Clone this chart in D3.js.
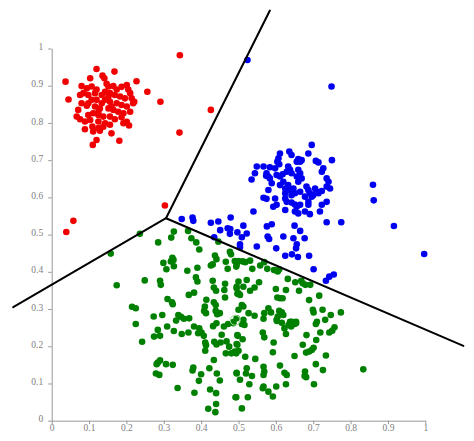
<!DOCTYPE html>
<html>
<head>
<meta charset="utf-8">
<script src="https://cdn.jsdelivr.net/npm/d3@7"></script>
<style>
  html, body { margin: 0; padding: 0; background: #fff; }
  .axis text { font-family: "Liberation Serif", serif; font-size: 9.5px; fill: #808080; }
  .axis path, .axis line { stroke: #999; stroke-width: 1; }
</style>
</head>
<body>
<svg id="chart" width="474" height="441"></svg>
<script>
// --- Data ---
const tickValues = [0, 0.1, 0.2, 0.3, 0.4, 0.5, 0.6, 0.7, 0.8, 0.9, 1];
const tickLabels = ["0", "0.1", "0.2", "0.3", "0.4", "0.5", "0.6", "0.7", "0.8", "0.9", "1"];

const redPoints = [
  [0.037,0.911],[0.045,0.863],[0.120,0.945],[0.168,0.938],[0.136,0.927],[0.141,0.920],
  [0.103,0.920],[0.227,0.912],[0.256,0.884],[0.291,0.857],
  [0.080,0.899],[0.094,0.893],[0.085,0.880],[0.107,0.898],[0.120,0.890],[0.116,0.880],
  [0.098,0.875],[0.076,0.875],
  [0.147,0.905],[0.152,0.898],[0.165,0.899],[0.174,0.890],[0.187,0.897],[0.201,0.902],
  [0.205,0.890],[0.210,0.880],
  [0.143,0.884],[0.134,0.875],[0.156,0.880],[0.169,0.875],[0.183,0.871],[0.196,0.866],
  [0.214,0.866],[0.218,0.853],
  [0.107,0.862],[0.120,0.862],[0.143,0.862],[0.156,0.857],[0.174,0.853],[0.187,0.848],
  [0.201,0.844],
  [0.080,0.853],[0.094,0.846],[0.071,0.835],[0.116,0.844],[0.129,0.839],[0.152,0.839],
  [0.165,0.835],[0.178,0.830],[0.192,0.826],[0.210,0.830],[0.221,0.857],
  [0.067,0.817],[0.076,0.810],[0.098,0.821],[0.111,0.826],[0.125,0.821],[0.138,0.817],
  [0.156,0.817],[0.169,0.810],[0.187,0.815],[0.201,0.803],[0.207,0.793],
  [0.089,0.804],[0.103,0.808],[0.125,0.804],[0.143,0.799],[0.156,0.795],[0.192,0.799],
  [0.089,0.783],[0.109,0.790],[0.111,0.777],[0.125,0.786],[0.138,0.790],[0.160,0.772],
  [0.120,0.754],[0.129,0.779],[0.110,0.741],[0.181,0.752],
  [0.098,0.853],[0.134,0.853],[0.152,0.871],[0.160,0.844],[0.125,0.830],
  [0.343,0.982],[0.426,0.835],[0.342,0.774],[0.303,0.578],[0.058,0.537],[0.039,0.507]
];

const bluePoints = [
  [0.524,0.969],[0.749,0.898],[0.860,0.634],[0.862,0.592],[0.916,0.523],[0.997,0.448],
  [0.696,0.741],[0.750,0.700],[0.687,0.718],[0.611,0.718],[0.636,0.723],[0.642,0.714],
  [0.607,0.705],[0.604,0.696],[0.609,0.689],
  [0.660,0.703],[0.665,0.696],[0.656,0.696],[0.669,0.700],[0.707,0.698],[0.714,0.694],
  [0.549,0.683],[0.567,0.683],[0.584,0.681],[0.544,0.665],[0.535,0.648],
  [0.575,0.665],[0.580,0.656],[0.584,0.651],[0.574,0.658],
  [0.598,0.678],[0.602,0.660],[0.611,0.656],[0.618,0.662],
  [0.633,0.683],[0.638,0.674],[0.629,0.669],[0.642,0.665],
  [0.660,0.674],[0.665,0.665],[0.656,0.656],[0.669,0.651],[0.660,0.642],
  [0.727,0.678],[0.723,0.669],[0.736,0.651],[0.741,0.642],[0.736,0.629],[0.745,0.624],
  [0.589,0.638],[0.611,0.633],[0.620,0.642],[0.625,0.624],[0.633,0.633],[0.638,0.620],
  [0.647,0.624],
  [0.625,0.611],[0.642,0.606],[0.651,0.611],[0.665,0.615],
  [0.682,0.629],[0.687,0.620],[0.678,0.602],
  [0.705,0.624],[0.709,0.615],[0.700,0.606],[0.714,0.611],[0.723,0.617],[0.696,0.602],
  [0.691,0.611],
  [0.580,0.620],[0.567,0.599],[0.575,0.596],[0.598,0.597],
  [0.625,0.597],[0.629,0.588],[0.642,0.586],[0.651,0.581],[0.656,0.575],[0.665,0.580],
  [0.687,0.588],[0.687,0.580],[0.723,0.580],[0.736,0.588],
  [0.593,0.575],[0.602,0.580],[0.625,0.566],[0.651,0.562],[0.660,0.557],[0.678,0.562],
  [0.691,0.555],[0.718,0.562],[0.540,0.562],
  [0.348,0.542],[0.377,0.546],[0.379,0.537],[0.426,0.532],[0.446,0.535],[0.479,0.546],
  [0.451,0.512],[0.471,0.517],[0.478,0.515],[0.477,0.502],[0.497,0.506],[0.513,0.524],
  [0.522,0.503],[0.509,0.493],[0.435,0.493],[0.504,0.474],[0.504,0.466],[0.549,0.468],
  [0.576,0.522],[0.578,0.495],[0.582,0.488],[0.601,0.463],[0.620,0.495],[0.647,0.490],
  [0.665,0.510],[0.677,0.490],[0.656,0.474],[0.654,0.463],[0.625,0.443],[0.643,0.447],
  [0.659,0.440],[0.689,0.443],[0.701,0.407],[0.734,0.376],[0.743,0.387],[0.755,0.393],
  [0.650,0.524],[0.589,0.528],[0.736,0.533],[0.775,0.533]
];

const greenPoints = [
  [0.236,0.502],[0.158,0.449],[0.327,0.508],[0.365,0.510],[0.320,0.492],[0.285,0.479],
  [0.374,0.490],[0.387,0.479],[0.395,0.460],[0.446,0.481],[0.437,0.444],[0.441,0.434],
  [0.431,0.420],[0.426,0.417],[0.466,0.427],[0.477,0.454],[0.480,0.447],[0.490,0.429],
  [0.471,0.408],[0.323,0.438],[0.319,0.428],[0.326,0.432],[0.299,0.424],[0.327,0.415],
  [0.307,0.407],[0.363,0.403],[0.390,0.411],[0.290,0.376],[0.292,0.365],[0.249,0.377],
  [0.174,0.364],[0.386,0.385],[0.390,0.374],[0.431,0.376],[0.434,0.358],[0.440,0.349],
  [0.464,0.368],[0.462,0.351],[0.464,0.331],[0.495,0.360],[0.497,0.341],[0.367,0.338],
  [0.381,0.344],[0.414,0.325],[0.434,0.318],[0.439,0.311],[0.310,0.327],[0.322,0.318],
  [0.324,0.313],[0.410,0.307],[0.408,0.295],[0.413,0.289],[0.439,0.295],[0.443,0.286],
  [0.450,0.289],[0.215,0.306],[0.225,0.302],[0.339,0.284],[0.346,0.279],[0.333,0.269],
  [0.354,0.274],[0.368,0.275],[0.296,0.284],[0.273,0.280],[0.441,0.262],[0.472,0.260],
  [0.225,0.260],[0.486,0.265],
  [0.500,0.429],[0.511,0.428],[0.531,0.430],[0.518,0.426],[0.494,0.414],[0.495,0.420],
  [0.537,0.408],[0.558,0.417],[0.569,0.426],[0.577,0.408],[0.595,0.405],[0.603,0.403],
  [0.609,0.407],[0.605,0.401],[0.632,0.381],[0.652,0.372],[0.668,0.376],[0.672,0.369],
  [0.679,0.365],[0.692,0.365],[0.500,0.374],[0.522,0.378],[0.513,0.360],[0.495,0.356],
  [0.555,0.372],[0.543,0.358],[0.531,0.349],[0.500,0.342],[0.504,0.338],[0.600,0.354],
  [0.627,0.351],[0.662,0.349],[0.604,0.331],[0.611,0.329],[0.618,0.329],[0.716,0.336],
  [0.689,0.324],[0.509,0.311],[0.513,0.307],[0.500,0.298],[0.527,0.289],[0.543,0.282],
  [0.580,0.302],[0.587,0.291],[0.609,0.295],[0.616,0.291],[0.620,0.284],[0.605,0.280],
  [0.602,0.271],[0.569,0.289],[0.567,0.274],[0.699,0.298],[0.701,0.291],[0.725,0.298],
  [0.747,0.284],[0.774,0.291],[0.710,0.266],[0.732,0.271],[0.638,0.266],[0.647,0.260],
  [0.654,0.266],[0.513,0.271],[0.495,0.275],
  [0.242,0.212],[0.284,0.244],[0.290,0.228],[0.274,0.226],[0.309,0.253],[0.327,0.241],
  [0.348,0.233],[0.366,0.237],[0.381,0.253],[0.395,0.248],[0.401,0.237],[0.392,0.235],
  [0.407,0.228],[0.411,0.210],[0.413,0.203],[0.411,0.188],[0.432,0.254],[0.455,0.231],
  [0.461,0.253],[0.435,0.212],[0.441,0.205],[0.452,0.210],[0.468,0.213],[0.475,0.199],
  [0.466,0.181],[0.481,0.181],[0.490,0.186],[0.497,0.204],[0.497,0.230],[0.486,0.262],
  [0.434,0.163],[0.284,0.156],[0.290,0.162],[0.281,0.152],[0.306,0.152],[0.324,0.150],
  [0.279,0.127],[0.288,0.123],[0.379,0.143],[0.377,0.135],[0.400,0.125],[0.422,0.141],
  [0.442,0.127],[0.450,0.108],[0.394,0.107],[0.337,0.088],[0.382,0.075],[0.424,0.084],
  [0.440,0.074],[0.492,0.063],[0.440,0.045],[0.419,0.032],[0.438,0.023],[0.495,0.127],
  [0.509,0.260],[0.516,0.257],[0.498,0.228],[0.511,0.219],[0.495,0.206],[0.500,0.188],
  [0.494,0.181],[0.518,0.172],[0.545,0.166],[0.565,0.237],[0.569,0.224],[0.594,0.210],
  [0.592,0.184],[0.623,0.248],[0.627,0.233],[0.634,0.257],[0.643,0.266],[0.650,0.260],
  [0.641,0.253],[0.654,0.262],[0.603,0.268],[0.616,0.263],[0.707,0.260],[0.682,0.230],
  [0.708,0.217],[0.719,0.237],[0.743,0.237],[0.751,0.242],[0.757,0.251],[0.672,0.204],
  [0.681,0.183],[0.689,0.186],[0.696,0.190],[0.701,0.196],[0.734,0.175],[0.650,0.174],
  [0.611,0.148],[0.567,0.145],[0.569,0.132],[0.567,0.123],[0.623,0.129],[0.629,0.123],
  [0.522,0.141],[0.495,0.129],[0.520,0.127],[0.536,0.120],[0.504,0.110],[0.529,0.098],
  [0.567,0.092],[0.565,0.087],[0.601,0.092],[0.580,0.078],[0.592,0.065],[0.627,0.098],
  [0.678,0.132],[0.677,0.120],[0.681,0.117],[0.707,0.152],[0.726,0.136],[0.702,0.098],
  [0.494,0.063],[0.525,0.063],[0.509,0.033],[0.834,0.138]
];

// open marker inside the green group
const hollowMarker = [0.491, 0.270];

// partition lines: shared apex and the three far ends
const boundaryApex = [0.306, 0.544];
const boundaryEnds = [[0.584, 1.102], [-0.103, 0.305], [1.102, 0.201]];

// --- Set up ---
const svg = d3.select("#chart");

const x = d3.scaleLinear().domain([0, 1]).range([51.7, 425.3]);
const y = d3.scaleLinear().domain([0, 1]).range([420.7, 48.5]);

// --- Axes ---
svg.append("g")
  .attr("class", "axis")
  .attr("transform", `translate(0,${y(0)})`)
  .call(d3.axisBottom(x)
    .tickValues(tickValues)
    .tickFormat((d, i) => tickLabels[i])
    .tickSize(3.5)
    .tickSizeOuter(0)
    .tickPadding(0.5));

svg.append("g")
  .attr("class", "axis y")
  .attr("transform", `translate(${x(0)},0)`)
  .call(d3.axisLeft(y)
    .tickValues(tickValues)
    .tickFormat((d, i) => tickLabels[i])
    .tickSize(3.5)
    .tickSizeOuter(0)
    .tickPadding(5));

svg.selectAll(".axis.y text").attr("dy", "0.12em");

// --- Points ---
function drawPoints(points, color) {
  svg.append("g")
    .selectAll("circle")
    .data(points)
    .join("circle")
    .attr("cx", d => x(d[0]))
    .attr("cy", d => y(d[1]))
    .attr("r", 3.3)
    .attr("fill", color);
}

drawPoints(greenPoints, "#008000");
drawPoints(bluePoints, "#0000f0");
drawPoints(redPoints, "#f00000");

svg.append("circle")
  .attr("cx", x(hollowMarker[0]))
  .attr("cy", y(hollowMarker[1]))
  .attr("r", 5)
  .attr("fill", "none")
  .attr("stroke", "#a8dca8")
  .attr("stroke-width", 1);

// --- Boundary lines ---
svg.append("g")
  .selectAll("line")
  .data(boundaryEnds)
  .join("line")
  .attr("x1", x(boundaryApex[0]))
  .attr("y1", y(boundaryApex[1]))
  .attr("x2", d => x(d[0]))
  .attr("y2", d => y(d[1]))
  .attr("stroke", "#000")
  .attr("stroke-width", 2)
  .attr("stroke-linecap", "round");
</script>
</body>
</html>
